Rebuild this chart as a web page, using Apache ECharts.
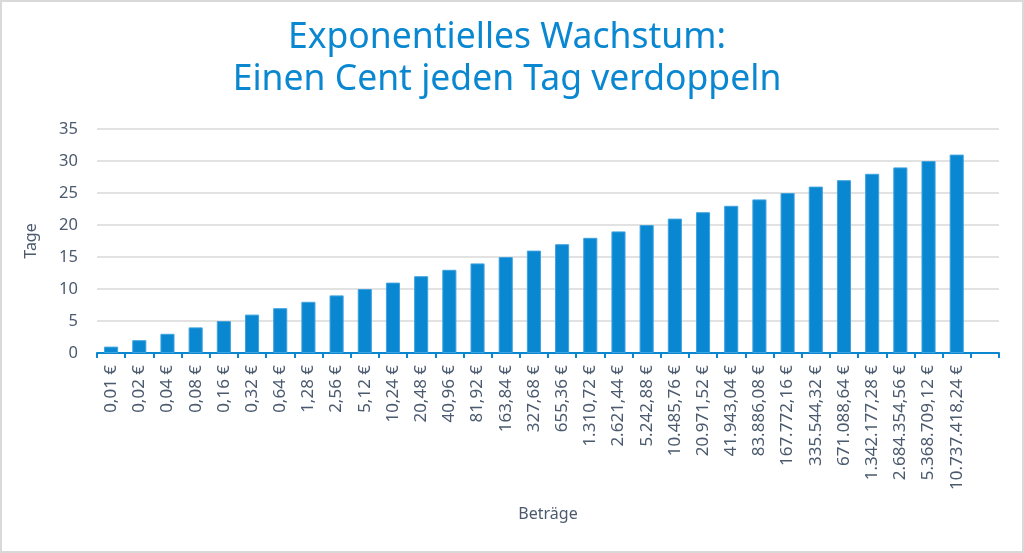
<!DOCTYPE html>
<html>
<head>
<meta charset="utf-8">
<script src="https://cdn.jsdelivr.net/npm/echarts@6/dist/echarts.min.js"></script>
<style>
html,body{margin:0;padding:0;background:#fff;}
#frame{position:absolute;left:0;top:0;width:1020px;height:549px;border:2px solid #d9d9d9;background:#fff;}
#chart{position:absolute;left:0;top:0;width:1024px;height:553px;}
</style>
</head>
<body>
<div id="frame"></div>
<div id="chart"></div>
<script>
const titleLines = ['Exponentielles Wachstum:', 'Einen Cent jeden Tag verdoppeln'];
const categories = ['0,01 €','0,02 €','0,04 €','0,08 €','0,16 €','0,32 €','0,64 €','1,28 €','2,56 €','5,12 €',
  '10,24 €','20,48 €','40,96 €','81,92 €','163,84 €','327,68 €','655,36 €','1.310,72 €','2.621,44 €','5.242,88 €',
  '10.485,76 €','20.971,52 €','41.943,04 €','83.886,08 €','167.772,16 €','335.544,32 €','671.088,64 €',
  '1.342.177,28 €','2.684.354,56 €','5.368.709,12 €','10.737.418,24 €',''];
const tage = [1,2,3,4,5,6,7,8,9,10,11,12,13,14,15,16,17,18,19,20,21,22,23,24,25,26,27,28,29,30,31,null];
const yTicks = {min:0, max:35, interval:5};
const xName = 'Beträge';
const yName = 'Tage';

const textColor = '#4b5a6e';
const blue = '#0a87d1';
const chart = echarts.init(document.getElementById('chart'), null, {renderer:'canvas'});
chart.setOption({
  backgroundColor:'transparent',
  animation:false,
  title:{
    text: titleLines.join('\n'),
    left: 502, top: 12, textAlign:'center',
    textStyle:{color:blue, fontFamily:'Noto Sans', fontWeight:'normal', fontSize:35.5, lineHeight:42}
  },
  grid:{left:97, right:25, top:129, bottom:200, containLabel:false},
  xAxis:{
    type:'category', data:categories,
    name:xName, nameLocation:'middle', nameGap:153,
    nameTextStyle:{color:textColor, fontFamily:'Noto Sans', fontSize:16},
    axisLine:{lineStyle:{color:blue, width:2}},
    axisTick:{show:true, length:5, lineStyle:{color:blue, width:2}},
    axisLabel:{rotate:90, interval:0, color:textColor, fontFamily:'Noto Sans', fontSize:17, margin:12},
    splitLine:{show:false}
  },
  yAxis:{
    type:'value', min:yTicks.min, max:yTicks.max, interval:yTicks.interval,
    name:yName, nameLocation:'middle', nameGap:58,
    nameTextStyle:{color:textColor, fontFamily:'Noto Sans', fontSize:16},
    axisLine:{show:false}, axisTick:{show:false},
    axisLabel:{color:textColor, fontFamily:'Noto Sans', fontSize:16.5, margin:19},
    splitLine:{lineStyle:{color:'#d9d9d9', width:1.5}}
  },
  series:[{
    type:'bar', data:tage, barWidth:'50%',
    itemStyle:{color:blue, borderColor:'#3fa3e0', borderWidth:1}
  }]
});
</script>
</body>
</html>
